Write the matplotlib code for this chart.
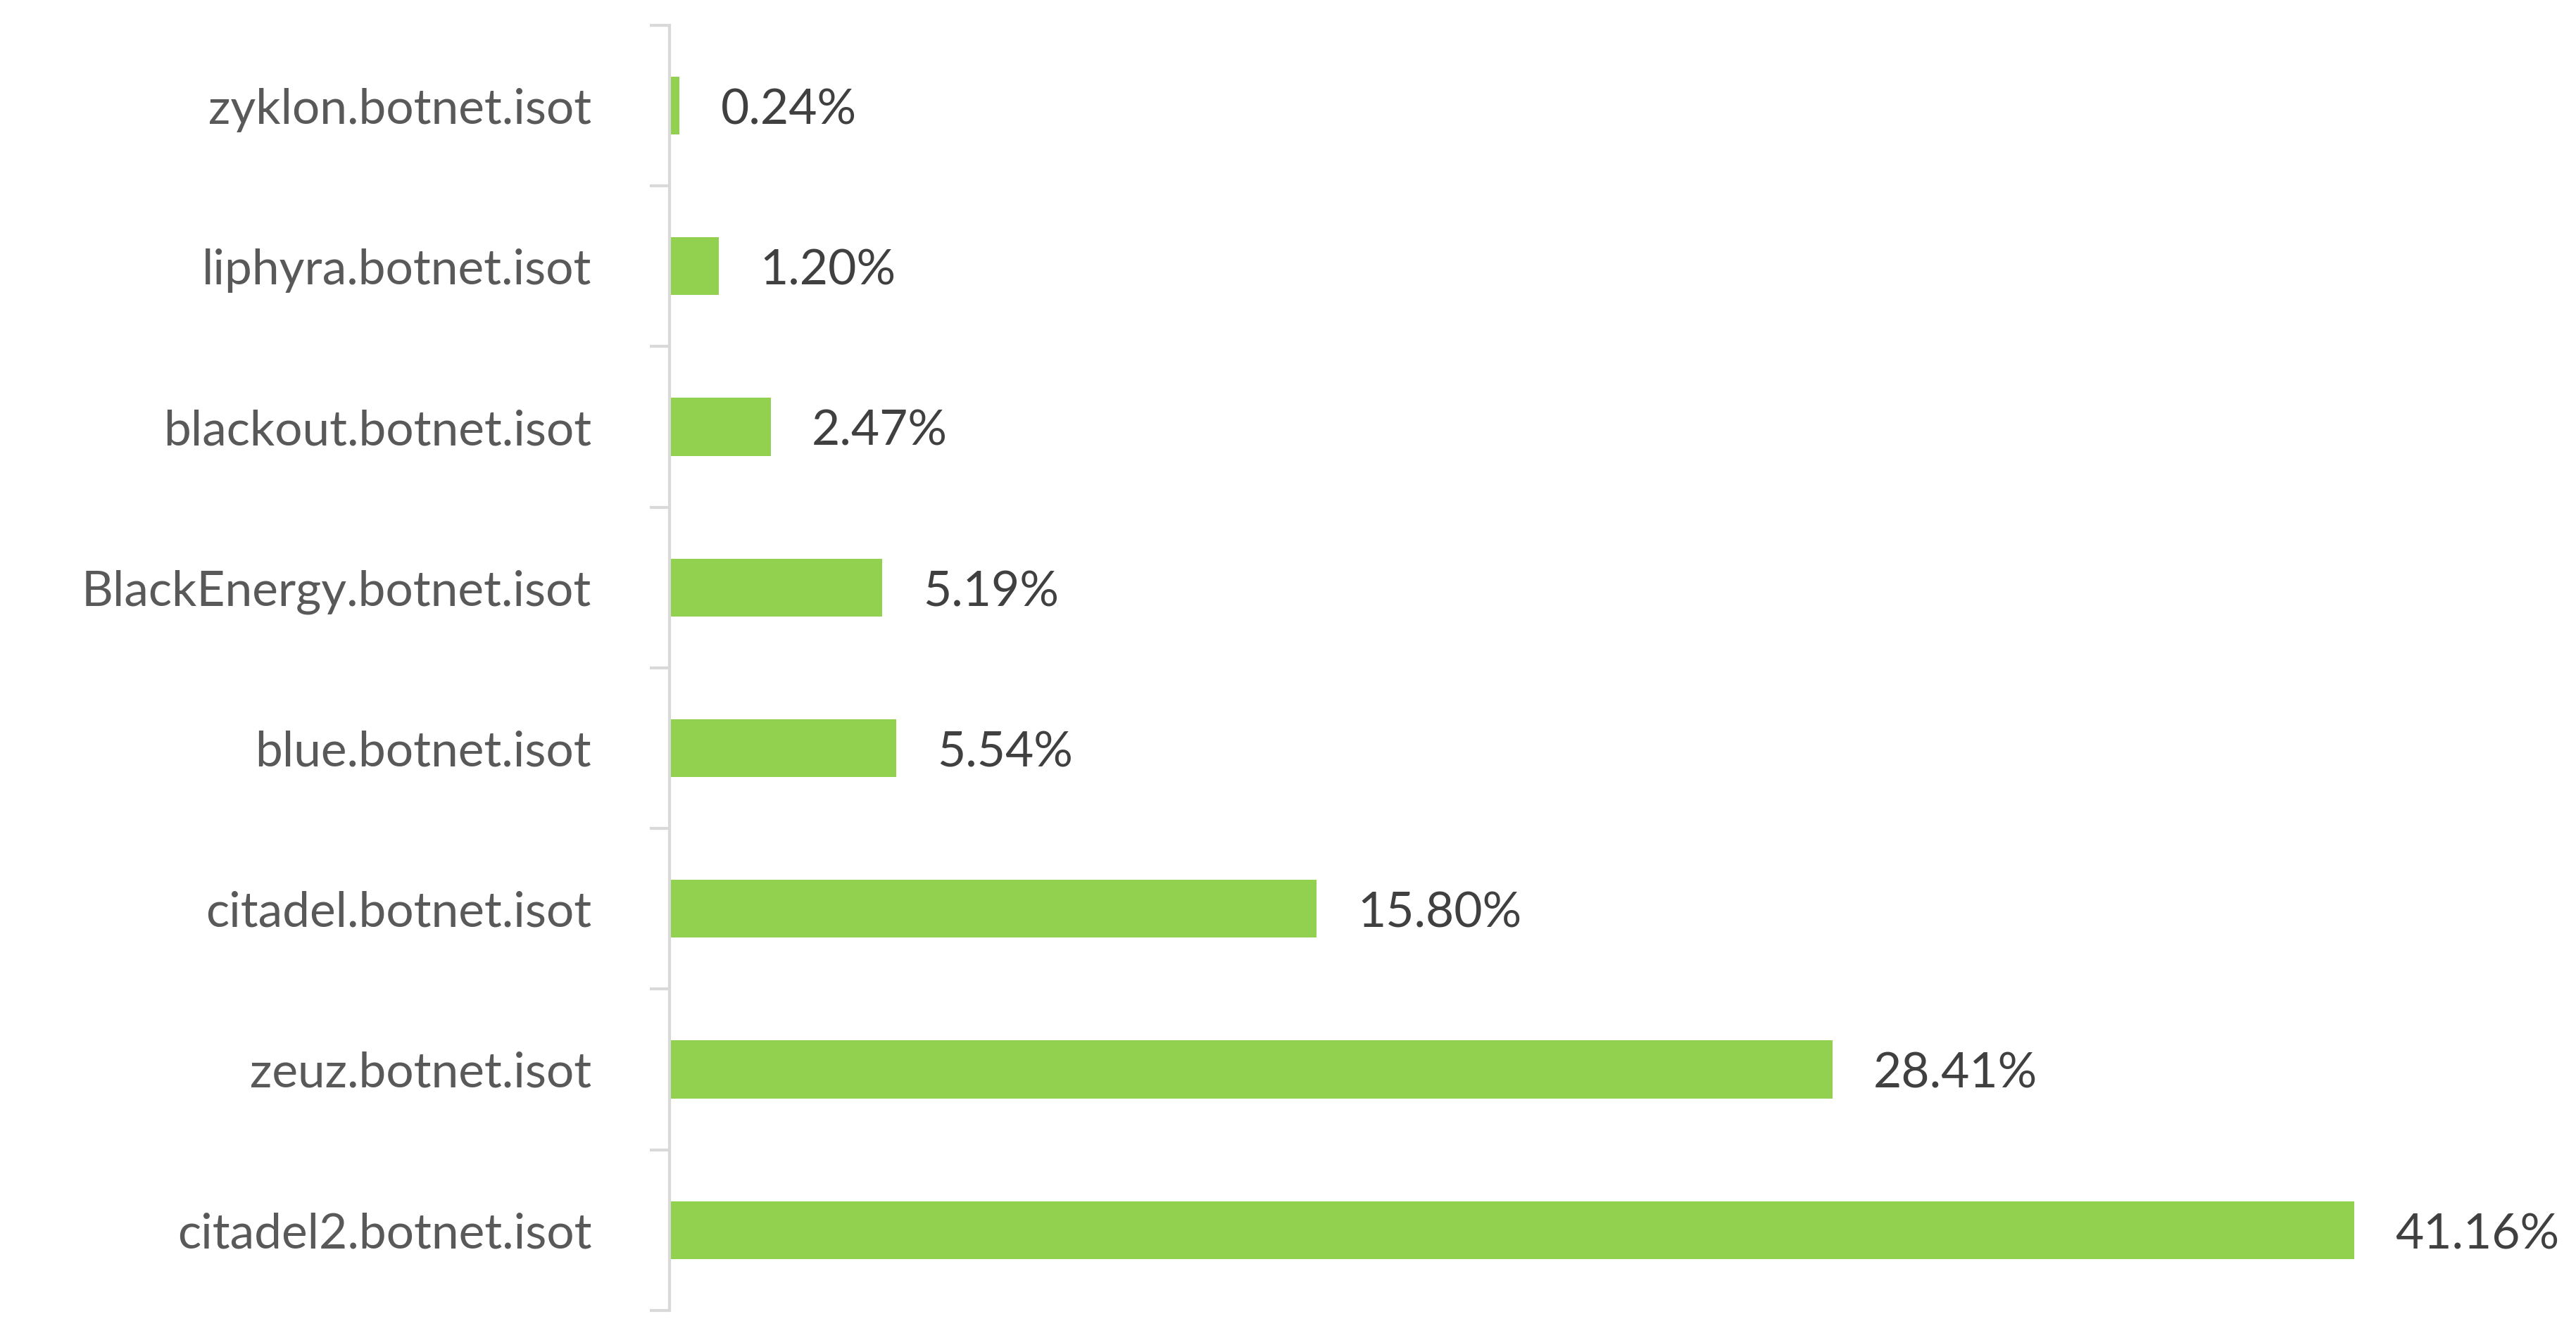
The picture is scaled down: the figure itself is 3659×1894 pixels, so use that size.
import numpy as np
import matplotlib
matplotlib.use('Agg')
import matplotlib.pyplot as plt

# data, top to bottom as shown
labels = ["zyklon.botnet.isot", "liphyra.botnet.isot", "blackout.botnet.isot",
          "BlackEnergy.botnet.isot", "blue.botnet.isot", "citadel.botnet.isot",
          "zeuz.botnet.isot", "citadel2.botnet.isot"]
values = [0.24, 1.20, 2.47, 5.19, 5.54, 15.80, 28.41, 41.16]

plt.rcParams['font.family'] = ['Lato', 'DejaVu Sans']

fig = plt.figure(figsize=(36.59, 18.94), dpi=100)
ax = fig.add_axes([0.260, 0.017, 0.715, 0.964])

y = np.arange(len(labels))
ax.barh(y, values, height=0.36, color='#92d050')
ax.set_ylim(len(labels) - 0.5, -0.5)
ax.set_xlim(0, 45)

for yi, v in zip(y, values):
    ax.text(v + 1.0, yi + 0.03, f"{v:.2f}%", va='center', ha='left',
            fontsize=50, color='#404040')

ax.set_yticks(y)
ax.set_yticklabels(labels, fontsize=50, color='#595959')
ax.tick_params(axis='y', which='major', length=0, pad=80)
ax.set_yticks(np.arange(-0.5, len(labels)), minor=True)
ax.tick_params(axis='y', which='minor', length=20, width=3, color='#d9d9d9')
ax.set_xticks([])

for s in ['top', 'right', 'bottom']:
    ax.spines[s].set_visible(False)
ax.spines['left'].set_color('#d9d9d9')
ax.spines['left'].set_linewidth(3)

fig.savefig('out.png', dpi=100)
